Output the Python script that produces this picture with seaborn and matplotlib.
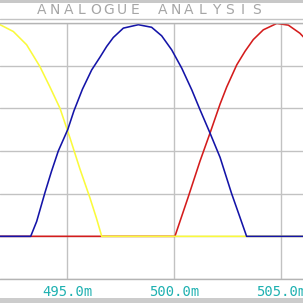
import matplotlib
matplotlib.use("Agg")
import matplotlib.pyplot as plt
import seaborn as sns
import pandas as pd
import numpy as np
from matplotlib.lines import Line2D
from matplotlib.patches import Rectangle

# ---- data (time in ms, value in grid divisions) ----
title_text = "ANALOGUE ANALYSIS"
tick_values = [495.0, 500.0, 505.0]
tick_labels = ["495.0m", "500.0m", "505.0m"]

t_red = [491.85, 500.02, 500.64, 501.19, 501.66, 502.13, 502.44, 502.91,
         503.30, 503.68, 504.15, 504.78, 505.32, 505.86, 506.05]
v_red = [0.0, 0.0, 0.92, 1.76, 2.42, 3.10, 3.50, 4.02,
         4.34, 4.61, 4.84, 4.99, 4.95, 4.76, 4.66]

t_yellow = [491.85, 492.47, 493.09, 493.71, 494.18, 494.65, 495.12, 495.58,
            496.05, 496.35, 496.60, 506.05]
v_yellow = [4.96, 4.80, 4.49, 3.98, 3.50, 3.00, 2.30, 1.58,
            0.90, 0.43, 0.0, 0.0]

t_blue = [491.85, 493.28, 493.56, 493.95, 494.25, 494.57, 495.01, 495.30,
          495.70, 496.13, 496.52, 496.83, 497.14, 497.61, 498.31, 498.93,
          499.40, 499.87, 500.34, 500.81, 501.19, 501.66, 502.13, 502.67,
          503.00, 503.37, 506.05]
v_blue = [0.0, 0.0, 0.35, 1.03, 1.52, 2.00, 2.50, 2.94,
          3.45, 3.90, 4.20, 4.45, 4.66, 4.88, 4.96, 4.90,
          4.70, 4.37, 3.94, 3.43, 2.97, 2.42, 1.85, 1.00,
          0.53, 0.0, 0.0]

series_names = ["red", "yellow", "blue"]
series_colors = {"red": "#d41c1c", "yellow": "#fafa3c", "blue": "#1414a8"}

frames = []
for name, t, v in [("red", t_red, v_red), ("yellow", t_yellow, v_yellow), ("blue", t_blue, v_blue)]:
    frames.append(pd.DataFrame({"time": t, "value": v, "trace": name}))
df = pd.concat(frames, ignore_index=True)

sns.set_style("white")
plt.rcParams["font.family"] = ["DejaVu Sans"]

W = 303.0
fig = plt.figure(figsize=(3.03, 3.03), dpi=100)
fig.patch.set_facecolor("white")

ax = fig.add_axes([0, 24 / W, 1, 256 / W])
ax.set_facecolor("white")

for name in series_names:
    sub = df[df["trace"] == name]
    sns.lineplot(data=sub, x="time", y="value", color=series_colors[name],
                 linewidth=1.15, estimator=None, sort=False, ax=ax, legend=False)

ax.set_xlim(491.846, 506.005)
ax.set_ylim(-1, 5)
ax.set_xlabel("")
ax.set_ylabel("")

grid_c = "#c2c2c2"
ax.set_yticks(np.arange(-1, 6, 1))
ax.set_yticklabels([])
ax.tick_params(axis="y", length=0)
ax.set_xticks(tick_values)
ax.set_xticklabels(tick_labels)
ax.set_xticks(np.arange(492.0, 506.01, 0.5), minor=True)
ax.grid(True, which="major", color=grid_c, linewidth=1.0)
ax.set_axisbelow(True)
ax.tick_params(axis="x", which="both", length=3, direction="inout",
               color="#a8a8a8", width=0.8)
ax.tick_params(axis="x", which="major", pad=2.5, labelcolor="#1fb1b1",
               labelsize=10)
for lbl in ax.get_xticklabels():
    lbl.set_fontfamily("DejaVu Sans Mono")

for side in ["left", "right"]:
    ax.spines[side].set_visible(False)
for side in ["top", "bottom"]:
    ax.spines[side].set_color("#b4b4b4")
    ax.spines[side].set_linewidth(1.0)

# header / footer decorations
fig.add_artist(Rectangle((0, 1 - 2.7 / W), 1, 2.7 / W, transform=fig.transFigure,
                         color="#c8c8c8", lw=0))
fig.add_artist(Line2D([0, 1], [1 - 18.7 / W] * 2, transform=fig.transFigure,
                      color="#c4c4c4", lw=1.0))
fig.add_artist(Rectangle((0, 0), 1, 5 / W, transform=fig.transFigure,
                         color="#cccccc", lw=0))

# title with wide letter pitch
for i, ch in enumerate(title_text):
    if ch == " ":
        continue
    fig.text((41.7 + 13.4 * i) / W, 1 - 10.3 / W, ch, ha="center", va="center",
             fontsize=10, color="#a6a6a6")

fig.savefig("out.png", dpi=100)
